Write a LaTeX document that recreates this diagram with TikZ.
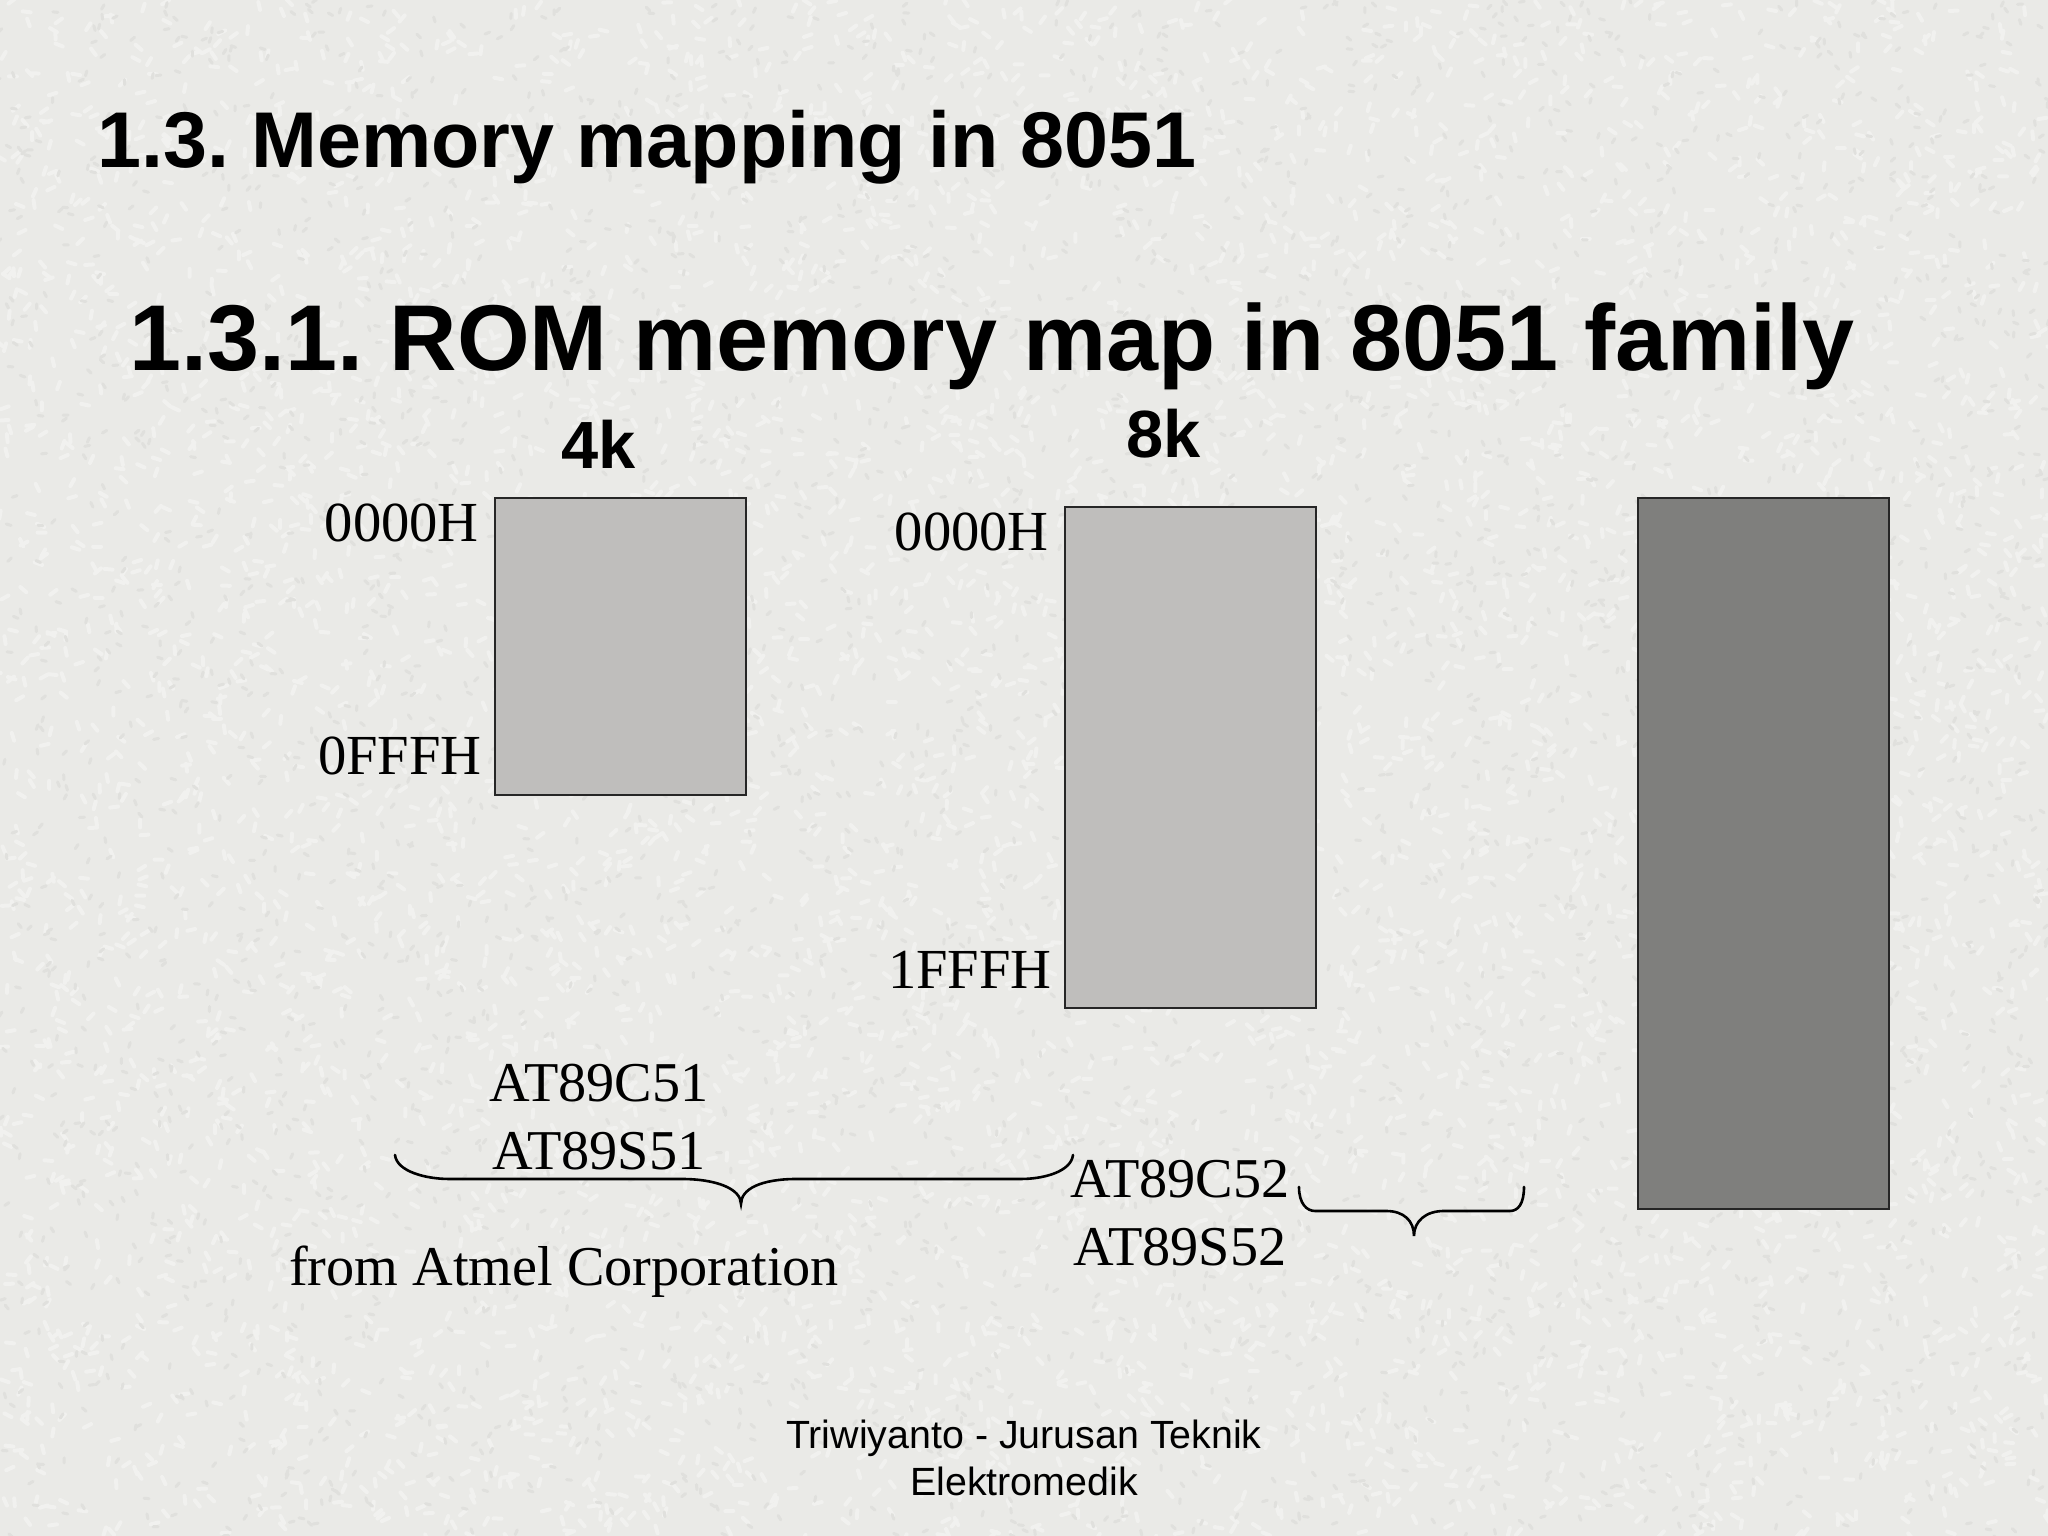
\documentclass[tikz,border=0pt]{standalone}
\usepackage{fontspec}
\setmainfont{Liberation Serif}
\newfontfamily\arialfont{Liberation Sans}
\definecolor{slidebg}{HTML}{EAEAE7}
\definecolor{grainlight}{HTML}{F1F1EF}
\definecolor{graindark}{HTML}{E0E0DD}
\definecolor{romlight}{HTML}{BFBEBC}
\definecolor{romdark}{HTML}{7F7F7D}
\tikzset{
    rombox/.style={draw=black!85, line width=0.02cm, anchor=north west, inner sep=0pt},
    addr/.style={anchor=base east, inner sep=0pt, font=\fontsize{16.1}{19}\selectfont},
    chip/.style={anchor=center, inner sep=0pt, align=center, font=\fontsize{16}{19.5}\selectfont},
    sizelabel/.style={anchor=base, inner sep=0pt, font=\arialfont\bfseries\fontsize{19}{22}\selectfont},
    headline/.style={anchor=base west, inner sep=0pt},
    bracket/.style={line width=0.026cm, line cap=round}
}
\frenchspacing

\begin{document}
\begin{tikzpicture}
    \useasboundingbox (0,0) rectangle (20.48,15.36);
    \fill[slidebg] (0,0) rectangle (20.48,15.36);
    % Paper grain
    \pgfmathsetseed{8051}
    \foreach \i in {1,...,6000} {
        \pgfmathsetmacro{\gx}{20.48*rnd}
        \pgfmathsetmacro{\gy}{15.36*rnd}
        \pgfmathsetmacro{\ga}{360*rnd}
        \draw[grainlight, line width=0.04cm, line cap=round] (\gx,\gy) -- ++(\ga:0.08);
    }
    \foreach \i in {1,...,4000} {
        \pgfmathsetmacro{\gx}{20.48*rnd}
        \pgfmathsetmacro{\gy}{15.36*rnd}
        \pgfmathsetmacro{\ga}{360*rnd}
        \draw[graindark, line width=0.03cm, line cap=round] (\gx,\gy) -- ++(\ga:0.05);
    }
    % Titles
    \node[headline, font=\arialfont\bfseries\fontsize{22.5}{26}\selectfont] (title) at (0.97,13.68) {1.3. Memory mapping in 8051};
    \node[headline, font=\arialfont\bfseries\fontsize{26.6}{31}\selectfont] (subtitle) at (1.29,11.65) {1.3.1. ROM memory map in 8051 family};
    % Memory blocks
    \node[rombox, fill=romlight, minimum width=2.51cm, minimum height=2.97cm] (rom4k) at (4.94,10.39) {};
    \node[rombox, fill=romlight, minimum width=2.51cm, minimum height=5.01cm] (rom8k) at (10.64,10.30) {};
    \node[rombox, fill=romdark, minimum width=2.51cm, minimum height=7.11cm] (romext) at (16.37,10.39) {};
    % Size labels
    \node[sizelabel] (size4k) at (5.985,10.67) {4k};
    \node[sizelabel] (size8k) at (11.635,10.78) {8k};
    % Address labels
    \node[addr] (start4k) at (4.795,9.94) {0000H};
    \node[addr] (end4k) at (4.825,7.61) {0FFFH};
    \node[addr] (start8k) at (10.495,9.85) {0000H};
    \node[addr] (end8k) at (10.525,5.47) {1FFFH};
    % Chip names
    \node[chip] (chips51) at (5.99,4.19) {AT89C51\\AT89S51};
    \node[chip] (chips52) at (11.80,3.23) {AT89C52\\AT89S52};
    \node[chip] (maker) at (5.64,2.645) {from Atmel Corporation};
    % Left brace
    \coordinate (brace1w) at (3.95,3.81);
    \coordinate (brace1e) at (10.73,3.81);
    \coordinate (brace1tip) at (7.41,3.32);
    \draw[bracket] (brace1w) .. controls +(0.02,-0.17) and +(-0.22,0) .. ++(0.54,-0.24) -- ++(2.32,0)
        .. controls +(0.36,0) and +(0,0.15) .. (brace1tip)
        .. controls +(0,0.15) and +(-0.36,0) .. ++(0.56,0.25) -- ++(2.24,0)
        .. controls +(0.22,0) and +(-0.02,-0.17) .. (brace1e);
    % Right brace
    \coordinate (brace2w) at (12.99,3.49);
    \coordinate (brace2e) at (15.24,3.49);
    \coordinate (brace2tip) at (14.14,3.00);
    \draw[bracket] (brace2w) .. controls +(0,-0.17) and +(-0.08,0) .. ++(0.16,-0.24) -- ++(0.71,0)
        .. controls +(0.18,0) and +(0,0.15) .. (brace2tip)
        .. controls +(0,0.15) and +(-0.18,0) .. ++(0.30,0.25) -- ++(0.66,0)
        .. controls +(0.08,0) and +(0,-0.17) .. (brace2e);
    % Footer
    \node[anchor=center, inner sep=0pt, align=center, font=\arialfont\fontsize{11.2}{13.6}\selectfont] (footer) at (10.24,0.78) {Triwiyanto - Jurusan Teknik\\Elektromedik};
\end{tikzpicture}
\end{document}
